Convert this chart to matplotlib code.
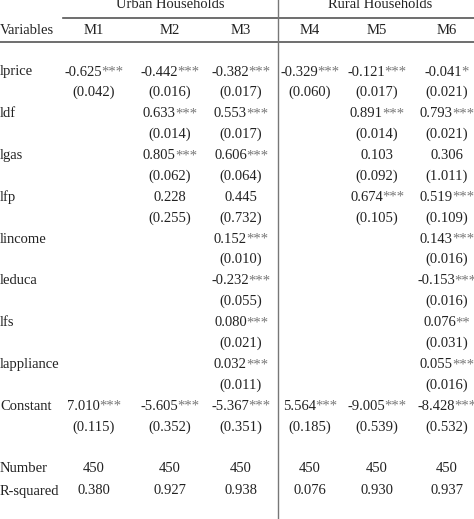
import matplotlib
matplotlib.use("Agg")
import matplotlib.pyplot as plt

W, H = 474, 519
variables = ["lprice", "ldf", "lgas", "lfp", "lincome", "leduca", "lfs", "lappliance", "Constant"]
models = ["M1", "M2", "M3", "M4", "M5", "M6"]
coefs = [
    ["-0.625***", "-0.442***", "-0.382***", "-0.329***", "-0.121***", "-0.041*"],
    ["", "0.633***", "0.553***", "", "0.891***", "0.793***"],
    ["", "0.805***", "0.606***", "", "0.103", "0.306"],
    ["", "0.228", "0.445", "", "0.674***", "0.519***"],
    ["", "", "0.152***", "", "", "0.143***"],
    ["", "", "-0.232***", "", "", "-0.153***"],
    ["", "", "0.080***", "", "", "0.076**"],
    ["", "", "0.032***", "", "", "0.055***"],
    ["7.010***", "-5.605***", "-5.367***", "5.564***", "-9.005***", "-8.428***"],
]
ses = [
    ["(0.042)", "(0.016)", "(0.017)", "(0.060)", "(0.017)", "(0.021)"],
    ["", "(0.014)", "(0.017)", "", "(0.014)", "(0.021)"],
    ["", "(0.062)", "(0.064)", "", "(0.092)", "(1.011)"],
    ["", "(0.255)", "(0.732)", "", "(0.105)", "(0.109)"],
    ["", "", "(0.010)", "", "", "(0.016)"],
    ["", "", "(0.055)", "", "", "(0.016)"],
    ["", "", "(0.021)", "", "", "(0.031)"],
    ["", "", "(0.011)", "", "", "(0.016)"],
    ["(0.115)", "(0.352)", "(0.351)", "(0.185)", "(0.539)", "(0.532)"],
]
numbers = ["450", "450", "450", "450", "450", "450"]
rsq = ["0.380", "0.927", "0.938", "0.076", "0.930", "0.937"]

fig = plt.figure(figsize=(W / 100, H / 100), dpi=100)
ax = fig.add_axes([0, 0, 1, 1])
ax.set_xlim(0, W)
ax.set_ylim(H, 0)
ax.axis("off")
plt.rcParams["font.family"] = ["Liberation Serif", "DejaVu Serif"]
FS = 10.5
TC = "#222222"
SC = "#777777"
colx = [94, 170, 241, 310, 377, 447]

ax.plot([63, W], [18, 18], color="#555555", lw=1.2)
ax.plot([0, W], [42, 42], color="#555555", lw=1.2)
ax.plot([278, 278], [0, H], color="#777777", lw=1)

ax.text(170, 5, "Urban Households", ha="center", va="center", fontsize=FS, color=TC)
ax.text(380, 5, "Rural Households", ha="center", va="center", fontsize=FS, color=TC)
ax.text(0, 30, "Variables", ha="left", va="center", fontsize=FS, color=TC)
for x, m in zip(colx, models):
    ax.text(x, 30, m, ha="center", va="center", fontsize=FS, color=TC)

fig.canvas.draw()
r = fig.canvas.get_renderer()

def width(s):
    t = ax.text(0, 0, s, fontsize=FS)
    w = t.get_window_extent(r).width
    t.remove()
    return w

def coef(x, y, s):
    if not s:
        return
    num = s.rstrip("*")
    st = s[len(num):]
    wn = width(num)
    total = wn + (width(st) - 1 if st else 0)
    left = x - total / 2
    ax.text(left, y, num, ha="left", va="center", fontsize=FS, color=TC)
    if st:
        ax.text(left + wn - 1, y, st, ha="left", va="center", fontsize=FS, color=SC)

y0, step = 72, 41.8
for i, v in enumerate(variables):
    y = y0 + i * step
    ax.text(0, y, v, ha="left", va="center", fontsize=FS, color=TC)
    for j, x in enumerate(colx):
        coef(x, y, coefs[i][j])
        if ses[i][j]:
            ax.text(x, y + 20.5, ses[i][j], ha="center", va="center", fontsize=FS, color=TC)

ax.text(0, 469, "Number", ha="left", va="center", fontsize=FS, color=TC)
ax.text(0, 491, "R-squared", ha="left", va="center", fontsize=FS, color=TC)
for j, x in enumerate(colx):
    ax.text(x, 469, numbers[j], ha="center", va="center", fontsize=FS, color=TC)
    ax.text(x, 491, rsq[j], ha="center", va="center", fontsize=FS, color=TC)

fig.savefig("out.png", dpi=100)
